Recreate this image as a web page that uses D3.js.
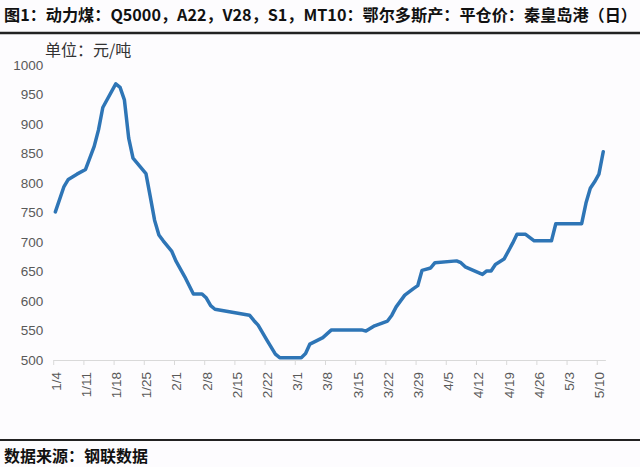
<!DOCTYPE html>
<html>
<head>
<meta charset="utf-8">
<script src="https://cdn.jsdelivr.net/npm/d3@7"></script>
<style>
  body { margin: 0; background: #fdfcfe; }
  text { font-family: "Liberation Sans", Arial, sans-serif; }
  .cjk { font-family: "Noto Sans CJK SC", sans-serif; }
</style>
</head>
<body>
<div id="chart"></div>
<script>
// Define svg size
var svgWidth = 640;
var svgHeight = 467;

// chart data (year 2021)
var dates = ["1/4", "1/6", "1/7", "1/9", "1/11", "1/13", "1/14", "1/15", "1/18", "1/19",
  "1/20", "1/21", "1/22", "1/25", "1/26", "1/27", "1/28", "1/29", "1/31", "2/1",
  "2/3", "2/5", "2/7", "2/8", "2/9", "2/10", "2/18", "2/19", "2/20", "2/22",
  "2/24", "2/25", "3/2", "3/3", "3/4", "3/7", "3/9", "3/16", "3/17", "3/19",
  "3/22", "3/23", "3/24", "3/26", "3/28", "3/29", "3/30", "4/1", "4/2", "4/7",
  "4/8", "4/9", "4/13", "4/14", "4/15", "4/16", "4/18", "4/20", "4/21", "4/23",
  "4/25", "4/29", "4/30", "5/6", "5/7", "5/8", "5/9", "5/10", "5/11"];
var prices = [751, 794, 806, 815, 823, 862, 890, 928, 968, 962,
  941, 876, 842, 816, 777, 737, 712, 702, 684, 667,
  641, 612, 612, 605, 592, 586, 576, 567, 559, 534,
  510, 504, 504, 511, 527, 538, 551, 551, 549, 558,
  566, 576, 590, 610, 621, 626, 652, 656, 665, 668,
  665, 658, 645, 651, 651, 662, 671, 698, 713, 713,
  702, 702, 731, 731, 766, 791, 802, 815, 853];

// tick labels
var xTickLabels = ["1/4", "1/11", "1/18", "1/25", "2/1", "2/8", "2/15", "2/22", "3/1", "3/8",
  "3/15", "3/22", "3/29", "4/5", "4/12", "4/19", "4/26", "5/3", "5/10"];
var yTicks = [500, 550, 600, 650, 700, 750, 800, 850, 900, 950, 1000];

var titleText = "图1：动力煤：Q5000，A22，V28，S1，MT10：鄂尔多斯产：平仓价：秦皇岛港（日）";
var unitText = "单位：元/吨";
var sourceText = "数据来源：钢联数据";

var parseDay = function(s) { return d3.timeParse("%Y/%m/%d")("2021/" + s); };

var data = dates.map(function(d, i) {
  return { date: parseDay(d), price: prices[i] };
});

var svg = d3.select("#chart")
  .append("svg")
  .attr("width", svgWidth)
  .attr("height", svgHeight);

// scales: one slot per day, points sit in the middle of their slot
var xScale = d3.scaleTime()
  .domain([parseDay("1/4"), parseDay("5/12")])
  .range([53.2, 605.4]);
var halfDay = (xScale(parseDay("1/5")) - xScale(parseDay("1/4"))) / 2;

var yScale = d3.scaleLinear()
  .domain([500, 1000])
  .range([360, 65]);

// title + rules
svg.append("text")
  .attr("class", "cjk")
  .attr("x", 4)
  .attr("y", 21)
  .attr("font-size", 16)
  .attr("font-weight", "bold")
  .attr("fill", "#111")
  .attr("textLength", 633)
  .attr("lengthAdjust", "spacingAndGlyphs")
  .text(titleText);

svg.append("line")
  .attr("x1", 0).attr("x2", 640)
  .attr("y1", 33).attr("y2", 33)
  .attr("stroke", "#222")
  .attr("stroke-width", 2.5);

svg.append("text")
  .attr("class", "cjk")
  .attr("x", 45)
  .attr("y", 56)
  .attr("font-size", 16)
  .attr("fill", "#333")
  .text(unitText);

// x axis
var xAxis = d3.axisBottom(xScale)
  .tickValues(xTickLabels.map(parseDay))
  .tickSize(5)
  .tickSizeOuter(0)
  .tickFormat(function(d, i) { return xTickLabels[i]; });

var xAxisG = svg.append("g")
  .attr("transform", "translate(0, 360)")
  .call(xAxis);

xAxisG.select(".domain").attr("stroke", "#d9d9d9");
xAxisG.selectAll(".tick line").attr("stroke", "#d9d9d9");
xAxisG.selectAll(".tick text")
  .attr("font-size", 13.5)
  .attr("fill", "#595959")
  .attr("text-anchor", "end")
  .attr("transform", "translate(" + halfDay + ",0) rotate(-90)")
  .attr("x", -12)
  .attr("y", 0)
  .attr("dy", "0.35em");

// y axis (labels only)
var yAxis = d3.axisLeft(yScale)
  .tickValues(yTicks)
  .tickFormat(d3.format("d"))
  .tickSize(0)
  .tickPadding(10);

var yAxisG = svg.append("g")
  .attr("transform", "translate(53.2, 0)")
  .call(yAxis);

yAxisG.select(".domain").remove();
yAxisG.selectAll(".tick text")
  .attr("font-size", 13.5)
  .attr("fill", "#595959");

// price line
var line = d3.line()
  .x(function(d) { return xScale(d.date) + halfDay; })
  .y(function(d) { return yScale(d.price); });

svg.append("path")
  .datum(data)
  .attr("fill", "none")
  .attr("stroke", "#2e75b6")
  .attr("stroke-width", 3.5)
  .attr("stroke-linejoin", "round")
  .attr("stroke-linecap", "round")
  .attr("d", line);

// footer
svg.append("line")
  .attr("x1", 0).attr("x2", 640)
  .attr("y1", 440).attr("y2", 440)
  .attr("stroke", "#222")
  .attr("stroke-width", 2);

svg.append("text")
  .attr("class", "cjk")
  .attr("x", 4)
  .attr("y", 462)
  .attr("font-size", 16)
  .attr("font-weight", "bold")
  .attr("fill", "#111")
  .text(sourceText);
</script>
</body>
</html>
